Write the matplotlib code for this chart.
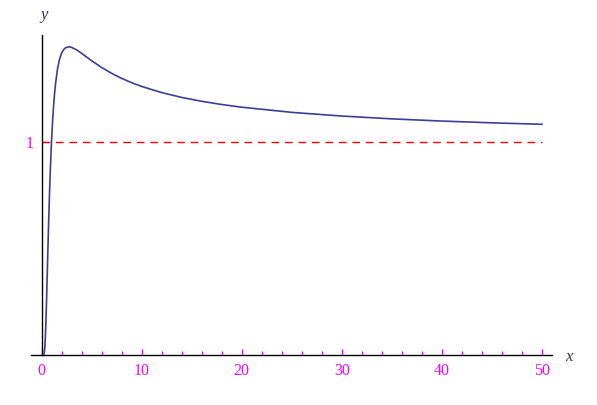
import numpy as np
import matplotlib
matplotlib.use('Agg')
import matplotlib.pyplot as plt
from matplotlib.ticker import MultipleLocator

# points
xs = [0.2, 0.25, 0.3, 0.35, 0.4, 0.45, 0.5, 0.55, 0.6, 0.65, 0.7, 0.75, 0.8, 0.85,
      0.9, 0.95, 1.0, 1.1, 1.2, 1.3, 1.4, 1.6, 1.8, 2.0, 2.2, 2.4, 2.718, 3.0, 3.5,
      4.0, 4.5, 5, 6, 7, 8, 9, 10, 12, 14, 16, 18, 20, 25, 30, 35, 40, 45, 50]
ys = [0.0003, 0.0039, 0.0181, 0.0498, 0.1012, 0.1696, 0.25, 0.3372, 0.4268, 0.5154,
      0.6008, 0.6814, 0.7566, 0.8260, 0.8895, 0.9474, 1.0, 1.0905, 1.1641, 1.2236,
      1.2717, 1.3415, 1.3862, 1.4142, 1.4310, 1.4402, 1.4447, 1.4422, 1.4304,
      1.4142, 1.3969, 1.3797, 1.3480, 1.3205, 1.2968, 1.2765, 1.2589, 1.2301,
      1.2074, 1.1892, 1.1742, 1.1616, 1.1374, 1.1201, 1.1069, 1.0966, 1.0883, 1.0814]
ref_level = 1
x_ticks = [0, 10, 20, 30, 40, 50]

magenta = '#ff00ff'
plt.rcParams['font.family'] = ['Liberation Serif', 'DejaVu Serif']

fig = plt.figure(figsize=(5.97, 4.05), dpi=100)
ax = fig.add_axes([31 / 597, 50 / 405, 521 / 597, 320 / 405])

ax.plot(xs, ys, color='#3d3d99', lw=1.2, zorder=3)
ax.plot([0, 50], [ref_level, ref_level], color='red', lw=1.0, dashes=(5.5, 4.2))

ax.set_xlim(-1.05, 51)
ax.set_ylim(0, 1.5)

for s in ['top', 'right']:
    ax.spines[s].set_visible(False)
ax.spines['left'].set_position(('data', 0))
ax.spines['left'].set_linewidth(1.0)
ax.spines['bottom'].set_linewidth(1.0)

ax.set_xticks(x_ticks)
ax.xaxis.set_minor_locator(MultipleLocator(2))
ax.set_yticks([ref_level])
ax.tick_params(axis='both', which='major', direction='in', length=4.3, width=1,
               color=magenta, labelcolor=magenta, labelsize=11.5)
ax.tick_params(axis='x', which='minor', direction='in', length=2.9, width=1, color=magenta)
ax.tick_params(axis='x', which='major', pad=6)
ax.tick_params(axis='y', which='major', pad=6)

fig.text(44 / 597, 1 - 15 / 405, 'y', fontsize=12, style='italic', color='#333355',
         ha='center', va='center')
fig.text(569 / 597, 1 - 357 / 405, 'x', fontsize=12, style='italic', color='#333355',
         ha='center', va='center')

fig.savefig('out.png', dpi=100)
